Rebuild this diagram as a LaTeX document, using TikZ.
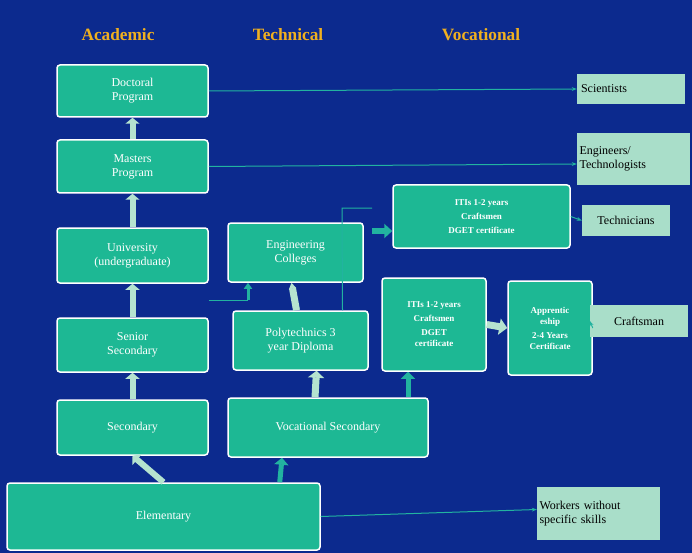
\documentclass[tikz,border=0pt]{standalone}
\usepackage{fontspec}
\setmainfont{Liberation Serif}
\usetikzlibrary{arrows.meta}
\definecolor{bg}{HTML}{0C2A8E}
\definecolor{gbox}{HTML}{1DB894}
\definecolor{lbl}{HTML}{A9DEC9}
\definecolor{mint}{HTML}{B5E3CF}
\definecolor{head}{HTML}{F0B020}
\definecolor{tline}{HTML}{22B3A0}
\tikzset{
 gb/.style={draw=white,line width=1.5pt,rounded corners=3pt,fill=gbox,text=white,align=center,font=\large,inner sep=0pt},
 sm/.style={gb,font=\small\bfseries},
 lb/.style={fill=lbl,text=black,align=left,font=\large,inner sep=0pt},
 hd/.style={text=head,font=\LARGE\bfseries},
 thin/.style={draw=tline,line width=1pt,-{Stealth[length=5pt]}},
 fat/.style={draw=#1,line width=5pt,-{Triangle[length=7pt,width=13pt]}},
}
\begin{document}
\begin{tikzpicture}[x=1pt,y=-1pt]
\fill[bg] (0,0) rectangle (692,553);
\useasboundingbox (0,0) rectangle (692,553);
\node[hd] (ha) at (118,35) {Academic};
\node[hd] (ht) at (288,35) {Technical};
\node[hd] (hv) at (481,35) {Vocational};
\node[gb,minimum width=151,minimum height=52] (doc) at (132.5,91) {Doctoral\\Program};
\node[gb,minimum width=151,minimum height=53] (mas) at (132.5,166.5) {Masters\\Program};
\node[gb,minimum width=151,minimum height=55] (uni) at (132.5,255.5) {University\\(undergraduate)};
\node[gb,minimum width=151,minimum height=54] (sen) at (132.5,345) {Senior\\Secondary};
\node[gb,minimum width=151,minimum height=55] (sec) at (132.5,427.5) {Secondary};
\node[gb,minimum width=313,minimum height=67] (ele) at (163.5,516.5) {Elementary};
\node[gb,minimum width=135,minimum height=59] (eng) at (295.5,252.5) {Engineering\\Colleges};
\node[gb,minimum width=135,minimum height=59] (pol) at (300.5,340.5) {Polytechnics 3\\year Diploma};
\node[gb,minimum width=200,minimum height=59] (voc) at (328,427.5) {Vocational Secondary};
\node[sm,minimum width=177,minimum height=63] (iti1) at (481.5,216.5) {ITIs 1-2 years\\[3pt]Craftsmen\\[3pt]DGET certificate};
\node[sm,minimum width=104,minimum height=93] (iti2) at (434,324.5) {ITIs 1-2 years\\[3pt]Craftsmen\\[3pt]DGET\\certificate};
\node[sm,minimum width=84,minimum height=94] (app) at (550,328) {Apprentic\\eship\\[3pt]2-4 Years\\Certificate};
\node[lb,minimum width=108,minimum height=30,text width=100] (sci) at (631,89) {Scientists};
\node[lb,minimum width=113,minimum height=52,text width=108] (engr) at (633.5,159) {Engineers/\\Technologists};
\node[lb,minimum width=88,minimum height=31] (tech) at (626,220.5) {Technicians};
\node[lb,minimum width=98,minimum height=32] (cra) at (639,321) {Craftsman};
\node[lb,minimum width=123,minimum height=53,text width=118] (wrk) at (598.5,513.5) {Workers without\\specific skills};
\foreach \a/\b in {mas/doc,uni/mas,sen/uni,sec/sen,ele/sec}
  \draw[fat=mint,line width=6pt,-{Triangle[length=6pt,width=14pt]}] (\a.north) -- (\b.south);
\draw[thin] (doc.east) -- (sci.west);
\draw[thin] (mas.east) -- ([yshift=-5]engr.west);
\draw[thin] (ele.east) -- ([yshift=4]wrk.west);
\draw[thin] (iti1.east) -- (tech.west);
\draw[thin] (app.east) -- (cra.west);
\coordinate (c1) at (248,300);
\draw[draw=tline,line width=1pt] (sen.east |- 0,300) -- (c1);
\draw[fat=tline,line width=3pt,-{Triangle[length=6pt,width=8pt]}] (c1) -- (eng.south -| c1);
\coordinate (c2) at (342,208);
\draw[draw=tline,line width=1pt] ([xshift=42]pol.north) -- (c2) -- (372,208);
\draw[fat=tline,line width=6pt,-{Triangle[length=8pt,width=14pt]}] (372,231) -- (iti1.west |- 0,231);
\draw[fat=mint,line width=7pt,-{Triangle[length=6pt,width=7pt]}] ([xshift=-4]pol.north) -- ([xshift=-4]eng.south);
\draw[fat=mint,line width=7pt,-{Triangle[length=7pt,width=16pt]}] ([xshift=-13]voc.north) -- ([xshift=16]pol.south);
\draw[fat=tline,-{Triangle[length=7pt,width=14pt]}] ([xshift=-26]iti2.south |- voc.north) -- ([xshift=-26]iti2.south);
\draw[fat=tline,-{Triangle[length=7pt,width=14pt]}] ([xshift=-41]ele.north east) -- ([xshift=-46]voc.south);
\draw[fat=mint,line width=7pt,-{Triangle[length=8pt,width=16pt]}] (iti2.east) -- (app.west);
\end{tikzpicture}
\end{document}
